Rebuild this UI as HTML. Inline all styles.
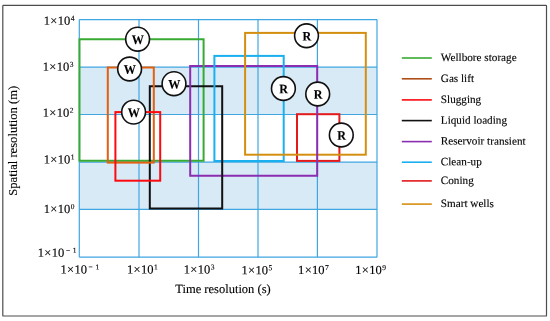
<!DOCTYPE html>
<html lang="en"><head><meta charset="utf-8"><title>Time and spatial resolution</title>
<style>html,body{margin:0;padding:0;background:#fff}svg{display:block}text{font-family:"Liberation Serif","Times New Roman",Times,serif;fill:#000;stroke:#000;stroke-width:0.12px}</style>
</head><body>
<svg width="550" height="321" viewBox="0 0 550 321">
<rect x="0" y="0" width="550" height="321" fill="#fff"/>
<rect x="2.8" y="5.3" width="543.7" height="310.7" rx="0.6" fill="none" stroke="#4d4d4d" stroke-width="1.2"/>
<rect x="79.3" y="67.2" width="297.7" height="47.3" fill="#d9eaf7"/>
<rect x="79.3" y="162.2" width="297.7" height="47.2" fill="#d9eaf7"/>
<g stroke="#3fa6e2" stroke-width="1.2" fill="none">
<line x1="79.3" y1="19.6" x2="79.3" y2="257.2"/>
<line x1="139.0" y1="19.6" x2="139.0" y2="257.2"/>
<line x1="198.5" y1="19.6" x2="198.5" y2="257.2"/>
<line x1="258.0" y1="19.6" x2="258.0" y2="257.2"/>
<line x1="317.4" y1="19.6" x2="317.4" y2="257.2"/>
<line x1="377.0" y1="19.6" x2="377.0" y2="257.2"/>
<line x1="79.3" y1="19.6" x2="377.0" y2="19.6"/>
<line x1="79.3" y1="67.2" x2="377.0" y2="67.2"/>
<line x1="79.3" y1="114.5" x2="377.0" y2="114.5"/>
<line x1="79.3" y1="162.2" x2="377.0" y2="162.2"/>
<line x1="79.3" y1="209.4" x2="377.0" y2="209.4"/>
<line x1="79.3" y1="257.2" x2="377.0" y2="257.2"/>
</g>
<g fill="none" stroke-width="2" stroke-linejoin="miter" stroke-linecap="butt">
<path d="M190,39.2H79.5V160.8H203.6V80" stroke="#38aa33"/>
<path d="M222.2,150V86.3H149.8V208.6H210" stroke="#111111"/>
<rect x="107.8" y="67.5" width="46.0" height="95.1" stroke="#e2600f"/>
<rect x="115.4" y="112.1" width="44.8" height="68.6" stroke="#fb0a10"/>
<rect x="297.0" y="114.2" width="42.4" height="46.7" stroke="#e3191c"/>
<path d="M317.2,100V66H190.2V175.8H300" stroke="#8a2db0"/>
<rect x="214.4" y="55.9" width="69.3" height="105.1" stroke="#1ab0f0"/>
<rect x="245.1" y="32.9" width="120.7" height="121.8" stroke="#d48f10"/>
<path d="M190,39.2H203.6V80" stroke="#38aa33"/>
<path d="M210,208.6H222.2V150" stroke="#111111"/>
<path d="M300,175.8H317.2V100" stroke="#8a2db0"/>
</g>
<g font-size="12.9px" font-weight="bold" text-anchor="middle">
<circle cx="137.6" cy="39.2" r="11.9" fill="#fff" stroke="#111" stroke-width="1.6"/>
<text transform="translate(137.9,44.05) rotate(0.03) scale(0.94,1)">W</text>
<circle cx="129.6" cy="69.0" r="11.9" fill="#fff" stroke="#111" stroke-width="1.6"/>
<text transform="translate(129.9,73.85) rotate(0.03) scale(0.94,1)">W</text>
<circle cx="174.0" cy="83.7" r="11.9" fill="#fff" stroke="#111" stroke-width="1.6"/>
<text transform="translate(174.3,88.55) rotate(0.03) scale(0.94,1)">W</text>
<circle cx="133.6" cy="112.1" r="11.9" fill="#fff" stroke="#111" stroke-width="1.6"/>
<text transform="translate(133.9,116.95) rotate(0.03) scale(0.94,1)">W</text>
<circle cx="306.5" cy="35.75" r="11.9" fill="#fff" stroke="#111" stroke-width="1.6"/>
<text transform="translate(306.8,40.60) rotate(0.03) scale(0.94,1)">R</text>
<circle cx="283.4" cy="88.5" r="11.9" fill="#fff" stroke="#111" stroke-width="1.6"/>
<text transform="translate(283.7,93.35) rotate(0.03) scale(0.94,1)">R</text>
<circle cx="317.7" cy="94.0" r="11.9" fill="#fff" stroke="#111" stroke-width="1.6"/>
<text transform="translate(318.0,98.85) rotate(0.03) scale(0.94,1)">R</text>
<circle cx="341.3" cy="135.0" r="11.9" fill="#fff" stroke="#111" stroke-width="1.6"/>
<text transform="translate(341.6,139.85) rotate(0.03) scale(0.94,1)">R</text>
</g>
<text transform="translate(43.7,24.7) rotate(0.03)" font-size="12.5px">1<tspan dx="0.3">×</tspan><tspan dx="0.4">10</tspan><tspan dy="-4.0" dx="0.5" font-size="7.5px">4</tspan></text>
<text transform="translate(42.8,70.8) rotate(0.03)" font-size="12.5px">1<tspan dx="0.3">×</tspan><tspan dx="0.4">10</tspan><tspan dy="-4.0" dx="0.5" font-size="7.5px">3</tspan></text>
<text transform="translate(42.8,116.7) rotate(0.03)" font-size="12.5px">1<tspan dx="0.3">×</tspan><tspan dx="0.4">10</tspan><tspan dy="-4.0" dx="0.5" font-size="7.5px">2</tspan></text>
<text transform="translate(43.7,163.5) rotate(0.03)" font-size="12.5px">1<tspan dx="0.3">×</tspan><tspan dx="0.4">10</tspan><tspan dy="-4.0" dx="0.5" font-size="7.5px">1</tspan></text>
<text transform="translate(43.7,212.9) rotate(0.03)" font-size="12.5px">1<tspan dx="0.3">×</tspan><tspan dx="0.4">10</tspan><tspan dy="-4.0" dx="0.5" font-size="7.5px">0</tspan></text>
<text transform="translate(37.7,256.7) rotate(0.03)" font-size="12.5px">1<tspan dx="0.3">×</tspan><tspan dx="0.4">10</tspan><tspan dy="-4.0" dx="1.7" font-size="7.5px">−</tspan><tspan dx="2.7" font-size="7.5px">1</tspan></text>
<text transform="translate(60.4,273.5) rotate(0.03)" font-size="12.5px">1<tspan dx="0.3">×</tspan><tspan dx="0.4">10</tspan><tspan dy="-4.0" dx="1.7" font-size="7.5px">−</tspan><tspan dx="2.7" font-size="7.5px">1</tspan></text>
<text transform="translate(127.0,273.5) rotate(0.03)" font-size="12.5px">1<tspan dx="0.3">×</tspan><tspan dx="0.4">10</tspan><tspan dy="-4.0" dx="0.5" font-size="7.5px">1</tspan></text>
<text transform="translate(183.7,273.5) rotate(0.03)" font-size="12.5px">1<tspan dx="0.3">×</tspan><tspan dx="0.4">10</tspan><tspan dy="-4.0" dx="0.5" font-size="7.5px">3</tspan></text>
<text transform="translate(241.5,274.3) rotate(0.03)" font-size="12.5px">1<tspan dx="0.3">×</tspan><tspan dx="0.4">10</tspan><tspan dy="-4.0" dx="0.5" font-size="7.5px">5</tspan></text>
<text transform="translate(298.1,273.9) rotate(0.03)" font-size="12.5px">1<tspan dx="0.3">×</tspan><tspan dx="0.4">10</tspan><tspan dy="-4.0" dx="0.5" font-size="7.5px">7</tspan></text>
<text transform="translate(355.3,273.9) rotate(0.03)" font-size="12.5px">1<tspan dx="0.3">×</tspan><tspan dx="0.4">10</tspan><tspan dy="-4.0" dx="0.5" font-size="7.5px">9</tspan></text>
<text transform="translate(175.3,293) rotate(0.03)" font-size="12.5px">Time resolution (s)</text>
<text transform="translate(16.9,195.7) rotate(-90)" font-size="12.6px">Spatial resolution (m)</text>
<line x1="401.8" y1="58.0" x2="431.8" y2="58.0" stroke="#38aa33" stroke-width="1.6"/>
<text transform="translate(440.8,61.0) rotate(0.03)" font-size="11.2px">Wellbore storage</text>
<line x1="401.8" y1="78.8" x2="431.8" y2="78.8" stroke="#b04e17" stroke-width="1.6"/>
<text transform="translate(440.8,82.0) rotate(0.03)" font-size="11.2px">Gas lift</text>
<line x1="401.8" y1="99.9" x2="431.8" y2="99.9" stroke="#fb0a10" stroke-width="1.6"/>
<text transform="translate(440.8,103.0) rotate(0.03)" font-size="11.2px">Slugging</text>
<line x1="401.8" y1="120.6" x2="431.8" y2="120.6" stroke="#111111" stroke-width="1.6"/>
<text transform="translate(440.8,123.8) rotate(0.03)" font-size="11.2px">Liquid loading</text>
<line x1="401.8" y1="141.6" x2="431.8" y2="141.6" stroke="#8a2db0" stroke-width="1.6"/>
<text transform="translate(440.8,144.6) rotate(0.03)" font-size="11.2px">Reservoir transient</text>
<line x1="401.8" y1="162.2" x2="431.8" y2="162.2" stroke="#1ab0f0" stroke-width="1.6"/>
<text transform="translate(440.8,165.2) rotate(0.03)" font-size="11.2px">Clean-up</text>
<line x1="401.8" y1="180.9" x2="431.8" y2="180.9" stroke="#e3191c" stroke-width="1.6"/>
<text transform="translate(440.8,183.9) rotate(0.03)" font-size="11.2px">Coning</text>
<line x1="401.8" y1="204.1" x2="431.8" y2="204.1" stroke="#d48f10" stroke-width="1.6"/>
<text transform="translate(440.8,207.1) rotate(0.03)" font-size="11.2px">Smart wells</text>
</svg>
</body></html>
